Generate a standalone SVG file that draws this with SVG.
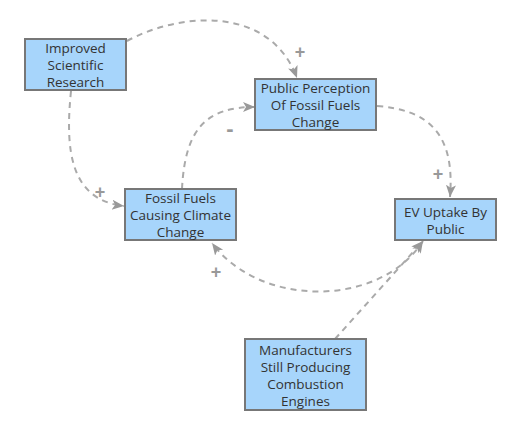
<svg xmlns="http://www.w3.org/2000/svg" width="522" height="433" viewBox="0 0 522 433">
<style>
.node rect{fill:#a7d5fb;stroke:#777;stroke-width:2}
.node text{font-family:"Comic Sans MS","Open Sans",sans-serif;font-size:13.5px;fill:#333;text-anchor:middle}
.link{fill:none;stroke:#aaa;stroke-width:2;stroke-dasharray:6 5}
.lbl{font-family:"Liberation Sans",sans-serif;font-size:18px;font-weight:bold;fill:#999;text-anchor:middle;dominant-baseline:central}
</style>
<defs>
<marker id="arr" markerUnits="userSpaceOnUse" markerWidth="14" markerHeight="12" refX="12" refY="5" orient="auto-start-reverse" viewBox="0 0 14 12">
<path d="M0,0 L12,5 L0,10 L3,5 z" fill="#999"/>
</marker>
</defs>
<rect width="522" height="433" fill="#fff"/>
<g id="connectors">
<path class="link" d="M127,41 C180,12 270,5 297,78" marker-end="url(#arr)"/>
<path class="link" d="M71,91 C65,150 70,200 124,206" marker-end="url(#arr)"/>
<path class="link" d="M182,189 C185,130 205,107 255,107" marker-end="url(#arr)"/>
<path class="link" d="M377,106 C430,110 455,135 450,197" marker-end="url(#arr)"/>
<path class="link" d="M423,241 C380,308 260,308 212,243" marker-start="url(#arr)" marker-end="url(#arr)"/>
<path class="link" d="M335,339 L423,241" marker-end="url(#arr)"/>
<text class="lbl" x="300" y="52">+</text>
<text class="lbl" x="100" y="192">+</text>
<text class="lbl" x="230" y="128" style="font-size:22px">-</text>
<text class="lbl" x="438" y="174">+</text>
<text class="lbl" x="216" y="272">+</text>
</g>
<g id="n-research" class="node">
<rect x="25" y="39" width="101" height="51"/>
<text x="75.5" y="53">Improved</text>
<text x="75.5" y="70">Scientific</text>
<text x="75.5" y="87">Research</text>
</g>
<g id="n-perception" class="node">
<rect x="255" y="79" width="121" height="51"/>
<text x="315.5" y="93">Public Perception</text>
<text x="315.5" y="110">Of Fossil Fuels</text>
<text x="315.5" y="127">Change</text>
</g>
<g id="n-fossil" class="node">
<rect x="125" y="189" width="111" height="51"/>
<text x="180.5" y="203">Fossil Fuels</text>
<text x="180.5" y="220">Causing Climate</text>
<text x="180.5" y="237">Change</text>
</g>
<g id="n-ev" class="node">
<rect x="395" y="199" width="101" height="41"/>
<text x="445.5" y="217">EV Uptake By</text>
<text x="445.5" y="234">Public</text>
</g>
<g id="n-manufacturers" class="node">
<rect x="245" y="339" width="121" height="71"/>
<text x="305.5" y="355">Manufacturers</text>
<text x="305.5" y="372">Still Producing</text>
<text x="305.5" y="389">Combustion</text>
<text x="305.5" y="406">Engines</text>
</g>
</svg>
